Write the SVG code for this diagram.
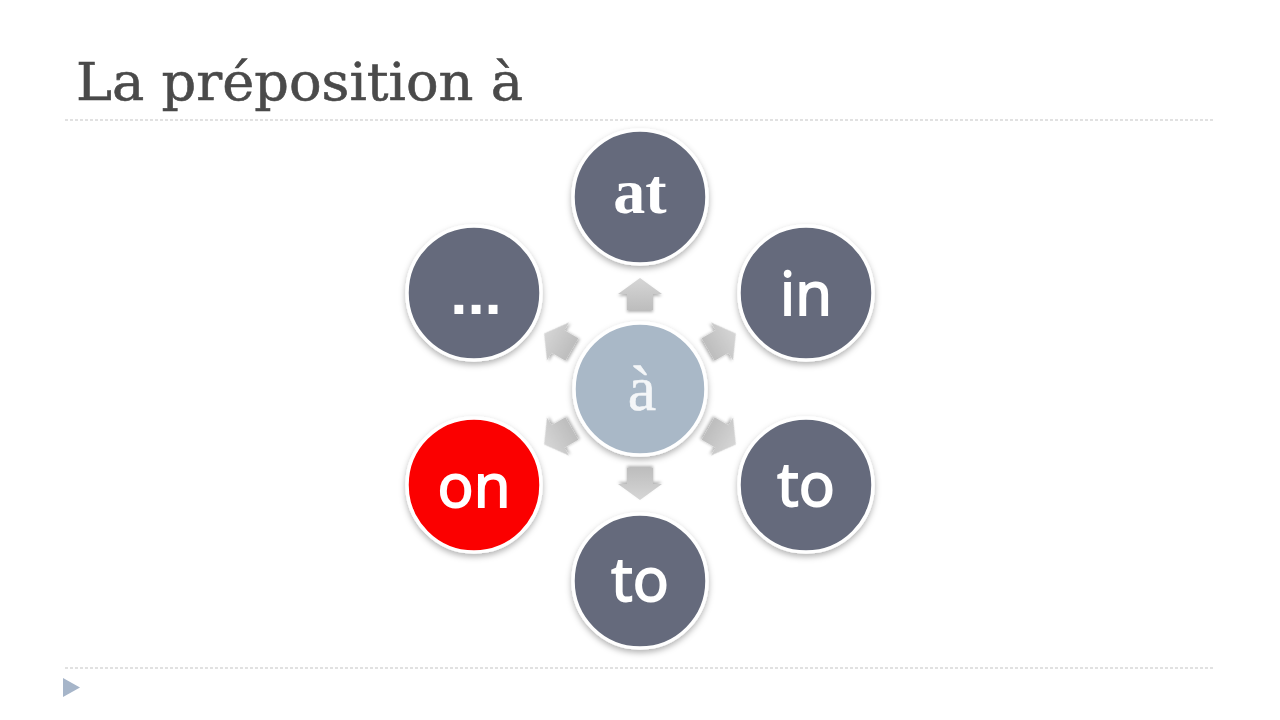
<svg xmlns="http://www.w3.org/2000/svg" width="1280" height="720" viewBox="0 0 1280 720">
<defs>
<style>
.rule{stroke:#c4c4c4;stroke-width:1.2;stroke-dasharray:3 2;fill:none}
.title{font-family:"DejaVu Serif","Liberation Serif",serif;font-size:53px;fill:#4a4a4a;stroke:#4a4a4a;stroke-width:0.6}
.node{stroke:#ffffff;stroke-width:3.5;filter:url(#sh)}
.dark{fill:#656b7c}
.red{fill:#fb0000}
.hub{fill:#a9b8c7}
.lbl{font-family:"Open Sans","Liberation Sans",sans-serif;font-weight:400;font-size:60px;fill:#ffffff;stroke:#ffffff;stroke-width:1.8;text-anchor:middle}
.arr{fill:url(#ag);filter:url(#ash)}
</style>
<filter id="sh" x="-30%" y="-30%" width="160%" height="170%">
<feDropShadow dx="0" dy="3" stdDeviation="3" flood-color="#000" flood-opacity="0.3"/>
</filter>
<filter id="ash" x="-40%" y="-40%" width="180%" height="180%">
<feDropShadow dx="0" dy="2" stdDeviation="1.5" flood-color="#000" flood-opacity="0.3"/>
</filter>
<linearGradient id="ag" x1="0" y1="0" x2="0" y2="1">
<stop offset="0" stop-color="#d6d6d6"/>
<stop offset="1" stop-color="#bdbdbd"/>
</linearGradient>
<path id="arrow" d="M0,-16 L22,0 L13,0 L13,16 L-13,16 L-13,0 L-22,0 Z"/>
</defs>
<rect width="1280" height="720" fill="#ffffff"/>
<text class="title" x="76" y="100" textLength="447" lengthAdjust="spacingAndGlyphs">La préposition à</text>
<line class="rule" x1="65" y1="120" x2="1215" y2="120"/>
<line class="rule" x1="65" y1="668" x2="1215" y2="668"/>
<polygon points="63,678 80,687.5 63,697" fill="#a6b5c9"/>
<g id="connectors">
<use href="#arrow" class="arr" transform="translate(640,294) rotate(0)"/>
<use href="#arrow" class="arr" transform="translate(722,341.5) rotate(60)"/>
<use href="#arrow" class="arr" transform="translate(722,436.5) rotate(120)"/>
<use href="#arrow" class="arr" transform="translate(640,484) rotate(180)"/>
<use href="#arrow" class="arr" transform="translate(558,436.5) rotate(240)"/>
<use href="#arrow" class="arr" transform="translate(558,341.5) rotate(300)"/>
</g>
<g id="node-a">
<circle class="node hub" cx="640" cy="389" r="66"/>
<text x="642" y="410" font-family="Liberation Serif, serif" font-size="64" fill="#f4f6f8" stroke="#f4f6f8" stroke-width="0.5" text-anchor="middle">à</text>
</g>
<g id="node-at">
<circle class="node dark" cx="640" cy="197" r="67"/>
<text x="640" y="213" font-family="Liberation Serif, serif" font-weight="700" font-size="64" fill="#ffffff" text-anchor="middle">at</text>
</g>
<g id="node-in">
<circle class="node dark" cx="806" cy="293" r="67"/>
<text class="lbl" x="806" y="315" font-size="55">in</text>
</g>
<g id="node-to-right">
<circle class="node dark" cx="806" cy="485" r="67"/>
<text class="lbl" x="806" y="506">to</text>
</g>
<g id="node-to-bottom">
<circle class="node dark" cx="640" cy="581" r="67"/>
<text class="lbl" x="640" y="601">to</text>
</g>
<g id="node-on">
<circle class="node red" cx="474" cy="485" r="67"/>
<text class="lbl" x="474" y="507">on</text>
</g>
<g id="node-more">
<circle class="node dark" cx="474" cy="293" r="67"/>
<text x="476" y="314" font-family="Liberation Sans, sans-serif" font-weight="700" font-size="62" fill="#ffffff" text-anchor="middle">...</text>
</g>
</svg>
